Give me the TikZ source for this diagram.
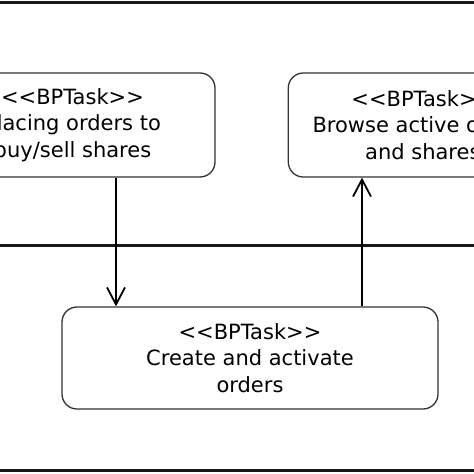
\documentclass[tikz,border=0pt]{standalone}
\usepackage{fontspec}
\setsansfont{DejaVu Sans}
\usetikzlibrary{
  arrows.meta,
  positioning,  % Function "of" (e.g. [right=of x])
}
\def\mytaskheight{104pt}
\def\mytaskradius{15pt}
\def\mylanegap{72pt}
\tikzset{
  font=\sffamily,
  my task/.style={
    draw=black!80,
    line width=1.3pt,
    rounded corners=\mytaskradius,
    minimum height=\mytaskheight,
    align=center,
    inner sep=0pt,
    font=\sffamily\fontsize{21}{26.5}\selectfont,
    rectangle
  },
  my lane/.style={
    draw=black!90,
    line width=3pt
  },
  my flow/.style={
    draw=black,
    line width=1.8pt,
    -{Straight Barb[length=17pt,width=18pt,line width=1.8pt]}
  }
}
\begin{document}
\begin{tikzpicture}[x=1pt,y=-1pt]
\useasboundingbox (0,0) rectangle (474,474);
% pool and lane borders
\draw[my lane,line width=3.5pt] (0,2.5)   -- (474,2.5);
\draw[my lane]                  (0,245)   -- (474,245);
\draw[my lane,line width=3.5pt] (0,470.5) -- (474,470.5);
% tasks
\node[my task,minimum width=285pt] (place)                        at (72.5,125)
  {<{}<BPTask>{}>\\Placing orders to\\buy/sell shares};
\node[my task,minimum width=269pt] (browse) [right=\mylanegap of place]
  {<{}<BPTask>{}>\\Browse active orders\\and shares};
\node[my task,minimum width=376pt,minimum height=102pt] (create) at (250,358)
  {<{}<BPTask>{}>\\Create and activate\\orders};
% flows
\draw[my flow] ([xshift=43.5pt]place.south)  -- ([xshift=43.5pt]place.south |- create.north);
\draw[my flow] ([xshift=112pt]create.north)  -- ([xshift=112pt]create.north |- browse.south);
\end{tikzpicture}
\end{document}
